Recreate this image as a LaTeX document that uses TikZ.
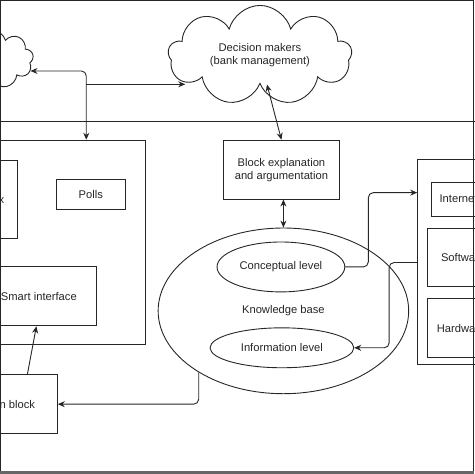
\documentclass[tikz,border=0pt]{standalone}
\usepackage{fontspec}
\setmainfont{Liberation Sans}
\usetikzlibrary{shapes.geometric, shapes.symbols, arrows.meta}

\begin{document}
\begin{tikzpicture}[x = 1pt, y = -1pt, > = {Stealth[length = 7pt, width = 6pt]},
	every node/.style = {font = \fontsize{11.2}{13}\selectfont, text = black!85},
	every path/.style = {line width = 0.9pt, draw = black!85},
	block/.style = {draw, rectangle, inner sep = 0pt, align = center},
	level/.style = {draw, ellipse, inner sep = 0pt},
	puff/.style = {draw, cloud, cloud puffs = 9, cloud ignores aspect, align = center}]

	\useasboundingbox (0, 0) rectangle (474, 474);

	% Frame
	
	\draw (-10, 121) -- (484, 121);
	\fill [black!60, draw = none] (0, 471.5) rectangle (474, 474);

	% Clouds
	
	\node [puff, minimum width = 82pt, minimum height = 58pt] (users) at (-8, 59) {};
	\node [puff, minimum width = 184pt, minimum height = 100pt] (decision) at (260, 55) {Decision makers\\(bank management)};

	% Blocks
	
	\node [block, minimum width = 117pt, minimum height = 59pt] (explain) at (281.5, 169.5) {Block explanation\\and argumentation};
	\node [block, minimum width = 205pt, minimum height = 205pt] (ifaces) at (42.5, 242.5) {};
	\node [block, minimum width = 65pt, minimum height = 78pt] (mailbox) at (-15.5, 199) {Mailbox};
	\node [block, minimum width = 69pt, minimum height = 30pt] (polls) at (90.5, 194) {Polls};
	\node [block, minimum width = 115pt, minimum height = 59pt] (smart) at (38.5, 296.5) {Smart interface};
	\node [block, minimum width = 117pt, minimum height = 59pt] (decblock) at (-1.5, 404.5) {Decision block};

	\node [block, minimum width = 112pt, minimum height = 206pt] (tech) at (474, 262) {};
	\node [block, minimum width = 54pt, minimum height = 34pt] (internet) at (459, 199) {Internet};
	\node [block, minimum width = 71pt, minimum height = 59pt] (software) at (463.5, 257.5) {Software};
	\node [block, minimum width = 67pt, minimum height = 59pt] (hardware) at (461.5, 328.5) {Hardware};

	% Knowledge base
	
	\node [level, minimum width = 251pt, minimum height = 166pt] (kb) at (283.5, 311) {Knowledge base};
	\node [level, minimum width = 128pt, minimum height = 50pt] (concept) at (281, 267) {Conceptual level};
	\node [level, minimum width = 144pt, minimum height = 40pt] (info) at (282, 348) {Information level};

	% Connectors
	
	\coordinate (split) at (86, 84);
	
	\begin{scope}[rounded corners = 5pt]
	
		\draw [<->] ([xshift = 43.5pt] ifaces.north) |- (users.-17);
		\draw [->] (split) -- (split -| decision.200);
		\draw [<->] ([xshift = 7pt] decision.south) -- (explain.north);
		\draw [<->] ([xshift = 2pt] explain.south) -- (kb.north);
		\draw [->] (concept.east) -| ([xshift = -49pt, yshift = -34pt] tech.north west) -- ([yshift = -34pt] tech.north west);
		\draw [->] ([yshift = -104pt] tech.north west) -| ([xshift = 35pt] info.east) -- (info.east);
		\draw [->] (kb.216) |- (decblock.east);
		\draw [->] ([xshift = 28.5pt] decblock.north) -- ([xshift = -2.5pt] smart.south);
		
	\end{scope}

\end{tikzpicture}
\end{document}
